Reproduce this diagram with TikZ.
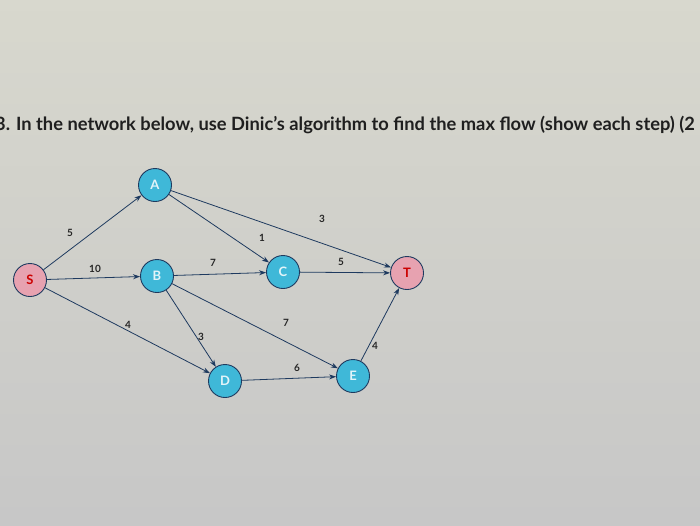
\documentclass[tikz,border=0pt]{standalone}
\usepackage{fontspec}
\setmainfont{Lato}
\usetikzlibrary{arrows.meta}
\definecolor{nodecyan}{HTML}{3FB8D8}
\definecolor{nodepink}{HTML}{E7A2B0}
\definecolor{edgecol}{HTML}{1E3A5F}
\tikzset{
  vert/.style={circle,draw=edgecol,line width=0.9pt,minimum size=33pt,inner sep=0pt,font=\bfseries\fontsize{13}{13}\selectfont},
  cy/.style={vert,fill=nodecyan,text=white!85!nodecyan},
  pk/.style={vert,fill=nodepink,text=red!80!black},
  edge/.style={draw=edgecol,line width=0.8pt,-{Stealth[length=7pt,width=5pt]}},
  wt/.style={font=\bfseries\fontsize{10}{10}\selectfont,text=black!85}
}
\begin{document}
\begin{tikzpicture}[x=1pt,y=-1pt]
\useasboundingbox (0,0) rectangle (700,525);
\shade[top color=black!16!white!96!yellow, bottom color=black!22!white] (0,0) rectangle (700,525);
\clip (0,0) rectangle (700,525);
\node[anchor=west,font=\bfseries\fontsize{18.3}{19}\selectfont,text=black!88,inner sep=0pt] (title) at (-5,125) {3. In the network below, use Dinic's algorithm to find the max flow (show each step) (2};
\node[pk] (S) at (30,280) {S};
\node[cy] (A) at (155,185) {A};
\node[cy] (B) at (157,276) {B};
\node[cy] (C) at (283,272) {C};
\node[pk] (T) at (407,273) {T};
\node[cy] (D) at (225,381) {D};
\node[cy] (E) at (353,376) {E};
\draw[edge] (S) -- (A);
\draw[edge] (S) -- (B);
\draw[edge] (S) -- (D);
\draw[edge] (A) -- (C);
\draw[edge] (A) -- (T);
\draw[edge] (B) -- (C);
\draw[edge] (C) -- (T);
\draw[edge] (B) -- (D);
\draw[edge] (B) -- (E);
\draw[edge] (D) -- (E);
\draw[edge] (E) -- (T);
\node[wt] (w1) at (70,233) {5};
\node[wt] (w2) at (95,269) {10};
\node[wt] (w3) at (128,325) {4};
\node[wt] (w4) at (262,238) {1};
\node[wt] (w5) at (322,219) {3};
\node[wt] (w6) at (213,263) {7};
\node[wt] (w7) at (341,262) {5};
\node[wt] (w8) at (201,337) {3};
\node[wt] (w9) at (286,323) {7};
\node[wt] (w10) at (297,368) {6};
\node[wt] (w11) at (375,346) {4};
\end{tikzpicture}
\end{document}
